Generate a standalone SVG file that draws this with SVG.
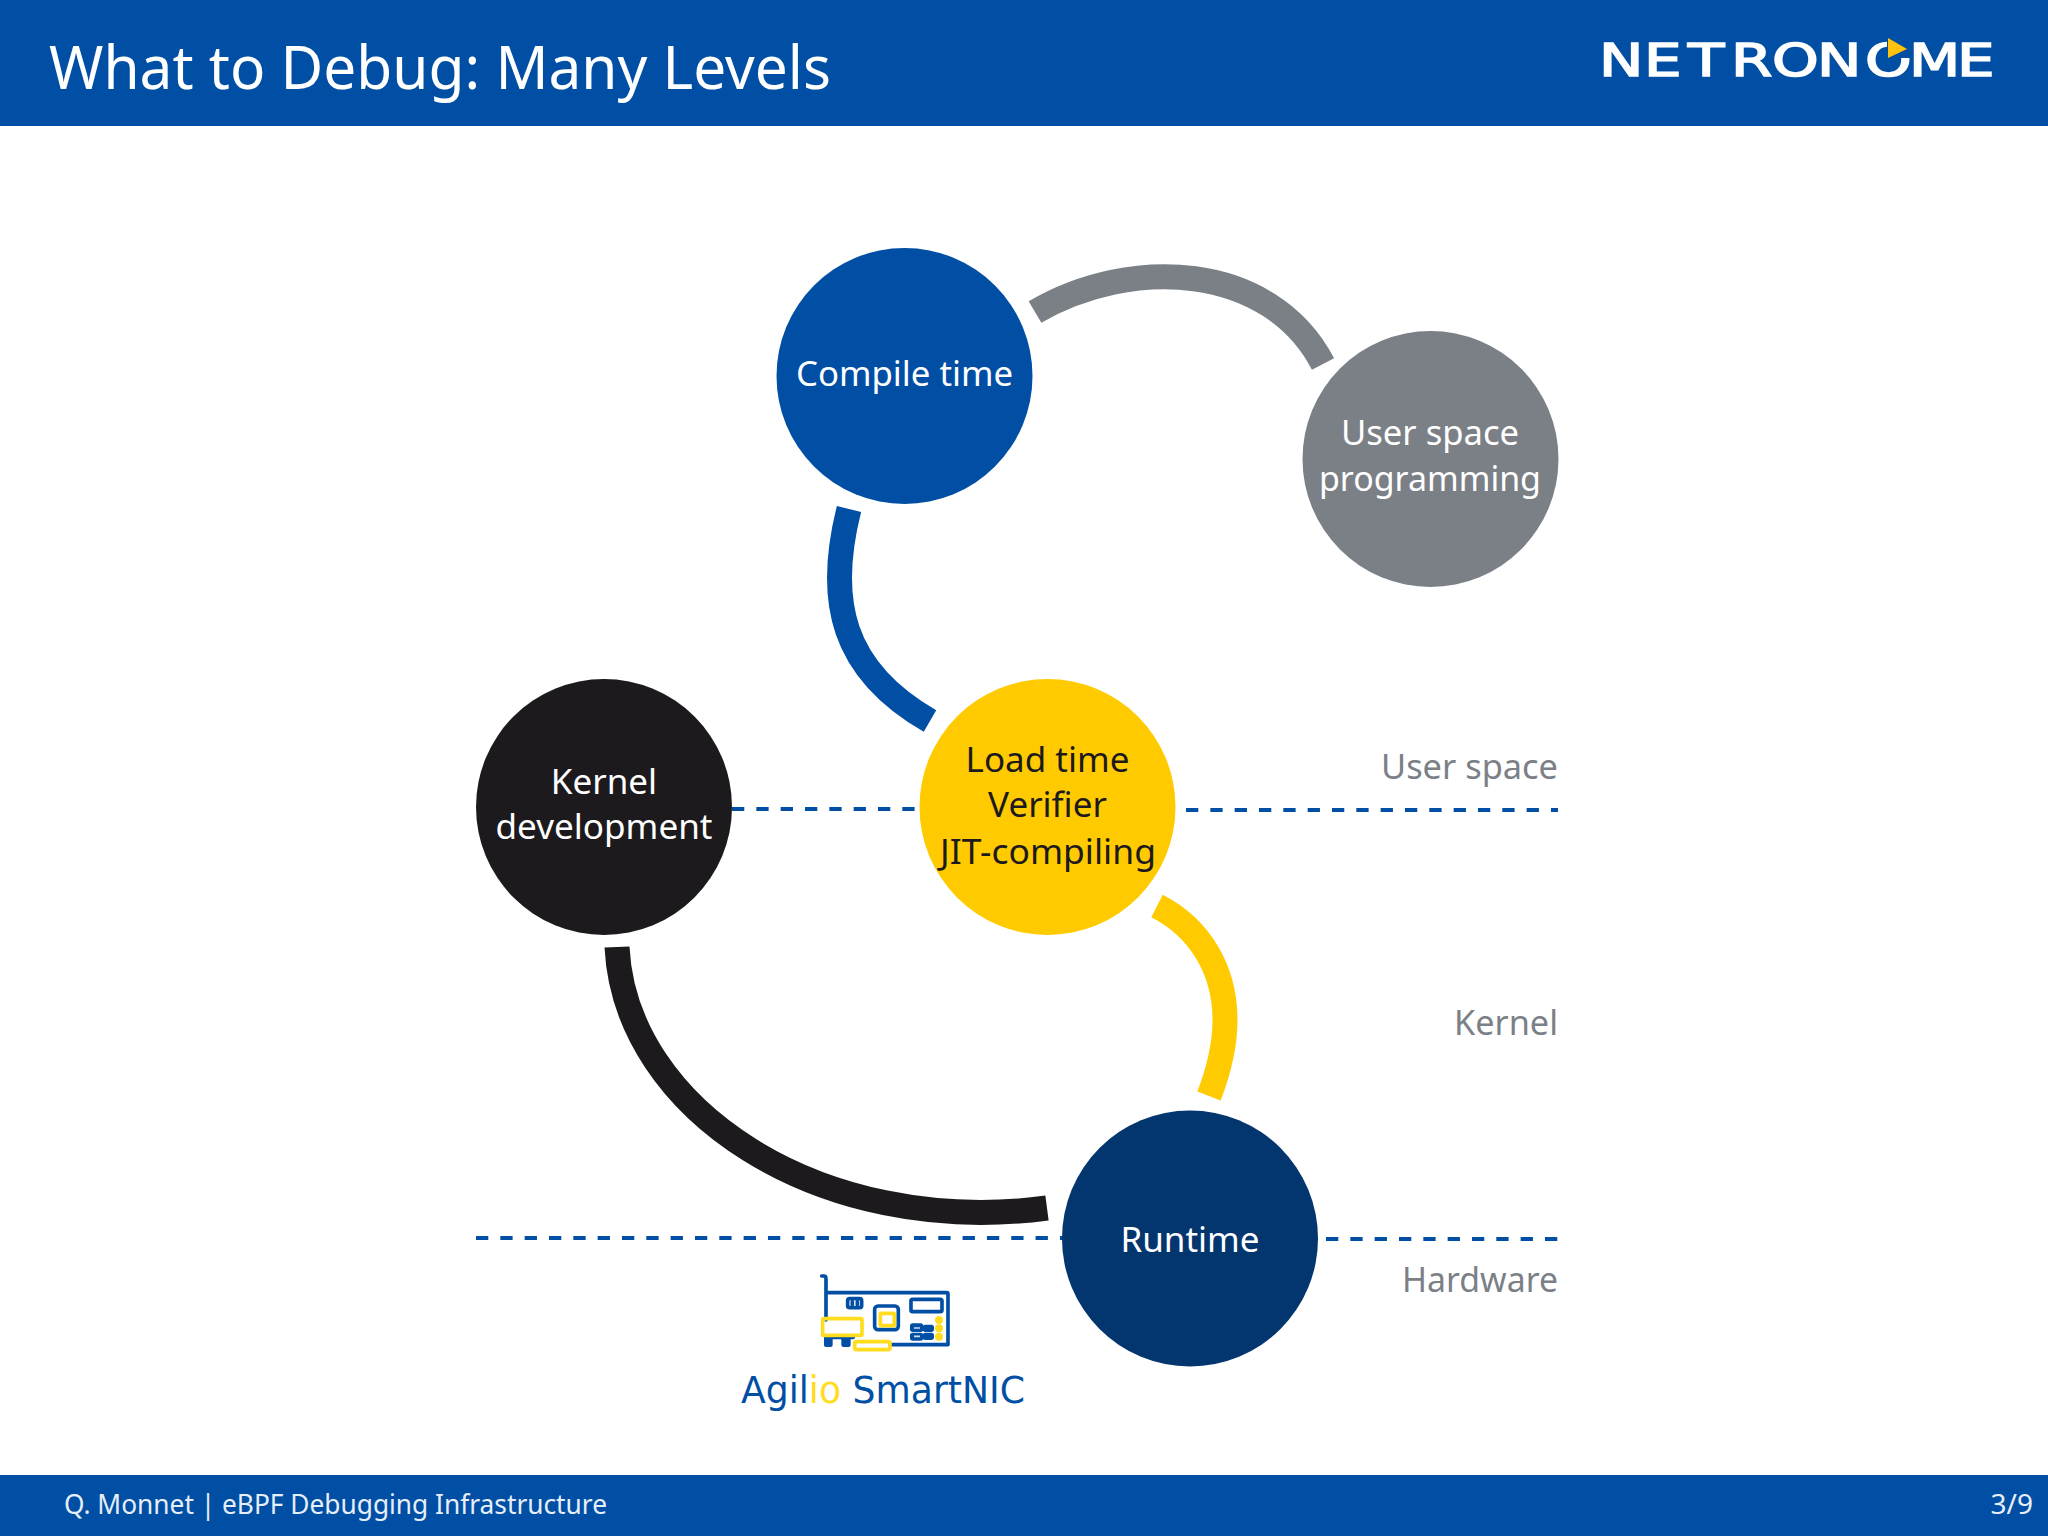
<svg xmlns="http://www.w3.org/2000/svg" width="2048" height="1536" viewBox="0 0 2048 1536">
<style>
text{font-family:"Noto Sans","Open Sans","Liberation Sans",sans-serif}
text.dv{font-family:"DejaVu Sans",sans-serif}
.n{font-size:35px;text-anchor:middle;fill:#fff}
.l{font-size:35px;text-anchor:end;fill:#7b8087}
.a{fill:none;stroke-width:25}
.d{fill:none;stroke:#004fa4;stroke-width:4;stroke-dasharray:12.3 12.03}
.ib{fill:none;stroke:#004fa4;stroke-width:11;stroke-linejoin:round;stroke-linecap:round}
.fb{fill:#004fa4}
.iy{fill:none;stroke:#ffdc1e;stroke-width:11;stroke-linejoin:round}
</style>
<rect width="2048" height="1536" fill="#fff"/>
<g id="header"><rect width="2048" height="126" fill="#004fa4"/>
<text x="49" y="89" font-size="60" fill="#fff" textLength="782" lengthAdjust="spacingAndGlyphs">What to Debug: Many Levels</text>
<g id="logo"><text class="dv" transform="scale(1.35 1)" x="1184.4 1217.8 1250.4 1282.2 1312.6 1345.9 1381.5 1414.1 1449.6" y="76.5" font-size="44" fill="#fff" stroke="#fff" stroke-width="1.5">NETRONOME</text>
<rect x="1887" y="36" width="23" height="22" fill="#004fa4"/>
<polygon points="1888,38 1907,49 1888,58" fill="#ffc20e"/></g></g>
<g id="footer"><rect y="1475" width="2048" height="61" fill="#004fa4"/>
<text x="64" y="1514" font-size="28" fill="#e6eef8" textLength="543" lengthAdjust="spacingAndGlyphs">Q. Monnet | eBPF Debugging Infrastructure</text>
<text x="2033" y="1514" font-size="28" fill="#e6eef8" text-anchor="end">3/9</text></g>
<g id="connectors">
<path class="a" stroke="#7b8087" d="M1035 312C1130 256 1270 262 1323 364"/>
<path class="a" stroke="#004fa4" d="M849 509C826 600 841 670 930 721"/>
<path class="a" stroke="#ffcb00" d="M1157 906C1200 928 1225 970 1225 1020C1225 1045 1219 1070 1209 1096"/>
<path class="a" stroke="#1c1a1d" d="M617 947C625 1110 820 1238 1047 1208"/>
<path class="d" d="M732 809H920M1186 810H1558M476 1238H1064M1326 1239H1558"/>
</g>
<g id="compile"><circle cx="904.5" cy="376" r="128" fill="#004fa4"/><text class="n" x="904.5" y="386" textLength="217" lengthAdjust="spacingAndGlyphs">Compile time</text></g>
<g id="userprog"><circle cx="1430.5" cy="459" r="128" fill="#7b8087"/><text class="n" x="1430" y="445" textLength="178" lengthAdjust="spacingAndGlyphs">User space</text><text class="n" x="1430" y="491" textLength="222" lengthAdjust="spacingAndGlyphs">programming</text></g>
<g id="kernel"><circle cx="604" cy="807" r="128" fill="#1c1a1d"/><text class="n" x="604" y="794">Kernel</text><text class="n" x="604" y="839" textLength="217" lengthAdjust="spacingAndGlyphs">development</text></g>
<g id="load"><circle cx="1047.5" cy="807" r="128" fill="#ffcb00"/>
<text class="n" style="fill:#1c1a1d" x="1047.5" y="772">Load time</text><text class="n" style="fill:#1c1a1d" x="1047.5" y="817">Verifier</text><text class="n" style="fill:#1c1a1d" x="1048" y="864" textLength="216" lengthAdjust="spacingAndGlyphs">JIT-compiling</text></g>
<g id="runtime"><circle cx="1190" cy="1238.5" r="128" fill="#03356f"/><text class="n" x="1190" y="1252">Runtime</text></g>
<g id="levels"><text class="l" x="1558" y="779" textLength="177" lengthAdjust="spacingAndGlyphs">User space</text><text class="l" x="1558" y="1035" textLength="104" lengthAdjust="spacingAndGlyphs">Kernel</text><text class="l" x="1558" y="1292" textLength="156" lengthAdjust="spacingAndGlyphs">Hardware</text></g>
<g id="smartnic">
<g transform="translate(720 1250) scale(.3333)">
<path class="ib" d="M305 78H312Q318 78 318 86V210M318 128H680Q684 128 684 132V284H510M318 262H400"/>
<path class="fb" d="M312 262H338V285Q338 291 332 291H318Q312 291 312 285ZM364 262H392V285Q392 291 386 291H370Q364 291 364 285Z"/>
<rect class="ib" x="383" y="146" width="42" height="27" rx="6"/><path class="ib" d="M397 155V164M412 155V164"/>
<rect class="ib" x="464" y="168" width="71" height="71" rx="10"/>
<rect class="ib" x="573" y="148" width="93" height="37" rx="5"/>
<rect class="fb" x="570" y="220" width="40" height="26" rx="8"/><rect class="fb" x="570" y="248" width="40" height="24" rx="8"/><rect class="fb" x="608" y="224" width="34" height="22" rx="8"/><rect class="fb" x="608" y="248" width="34" height="22" rx="8"/>
<path d="M582 234H600M582 259H600" stroke="#cfe0f0" stroke-width="5" fill="none"/>
<rect class="iy" x="481" y="190" width="42" height="37" rx="3"/>
<rect class="iy" x="308" y="206" width="118" height="50" rx="4"/>
<rect class="iy" x="404" y="275" width="106" height="24" rx="6"/>
<circle cx="657" cy="210" r="12" fill="#ffdc1e"/><circle cx="657" cy="235" r="12" fill="#ffdc1e"/><circle cx="657" cy="260" r="12" fill="#ffdc1e"/>
</g>
<text class="dv" x="741" y="1403" font-size="37" fill="#004fa4" textLength="284" lengthAdjust="spacingAndGlyphs">Agil<tspan fill="#ffdc1e">io</tspan> SmartNIC</text>
</g>
</svg>
